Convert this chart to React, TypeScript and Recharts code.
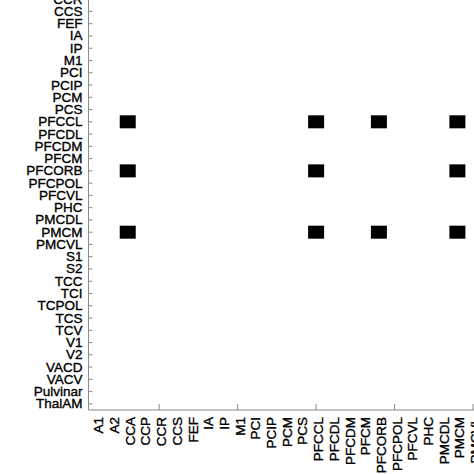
import { ScatterChart, Scatter, XAxis, YAxis } from "recharts";

// region names, used for both axes (matrix rows and columns)
const regions = [
  "A1", "A2", "CCA", "CCP", "CCR", "CCS", "FEF", "IA", "IP", "M1",
  "PCI", "PCIP", "PCM", "PCS", "PFCCL", "PFCDL", "PFCDM", "PFCM", "PFCORB", "PFCPOL",
  "PFCVL", "PHC", "PMCDL", "PMCM", "PMCVL", "S1", "S2", "TCC", "TCI", "TCPOL",
  "TCS", "TCV", "V1", "V2", "VACD", "VACV", "Pulvinar", "ThalAM",
];

// visible connections: [row (y), column (x)]
const links: [string, string][] = [
  ["PFCCL", "CCA"], ["PFCCL", "PFCCL"], ["PFCCL", "PFCORB"], ["PFCCL", "PMCM"],
  ["PFCORB", "CCA"], ["PFCORB", "PFCCL"], ["PFCORB", "PMCM"],
  ["PMCM", "CCA"], ["PMCM", "PFCCL"], ["PMCM", "PFCORB"], ["PMCM", "PMCM"],
];

const AXIS = "#8a8a8a";
const FONT = "'Liberation Sans', Arial, Helvetica, sans-serif";

const points = links.map(([row, col]) => ({
  x: regions.indexOf(col) + 1,
  y: regions.indexOf(row) + 1,
}));
const ticks = regions.map((_, i) => i + 1);

// label text is drawn a bit heavier, like the reference
const labelStyle = {
  fontFamily: FONT,
  fontSize: 13.5,
  fill: "#000",
  stroke: "#000",
  strokeWidth: 0.35,
};

function YTick(props: any) {
  const { x, y, payload } = props;
  return (
    <g>
      <line x1={x} x2={x + 4} y1={y} y2={y} stroke={AXIS} strokeWidth={1} />
      <text x={x - 6} y={y} textAnchor="end" dominantBaseline="central" {...labelStyle}>
        {regions[payload.value - 1]}
      </text>
    </g>
  );
}

function XTick(props: any) {
  const { x, y, payload } = props;
  const major = payload.value % 5 === 0;
  return (
    <g>
      {major && <line x1={x} x2={x} y1={y} y2={y - 6} stroke={AXIS} strokeWidth={1} />}
      <text transform={`translate(${x + 2.5},${y + 7}) rotate(-90)`} textAnchor="end"
        dominantBaseline="central" {...labelStyle}>
        {regions[payload.value - 1]}
      </text>
    </g>
  );
}

const Square = (props: any) => (
  <rect x={props.cx - 8} y={props.cy - 6.5} width={16} height={13} fill="#000" />
);

export default function App() {
  return (
    <div style={{ position: "absolute", left: 0, top: 0, width: 474, height: 474, overflow: "hidden", background: "#fff" }}>
      <div style={{ position: "absolute", left: 0, top: -66 }}>
        <ScatterChart width={695} height={556} margin={{ top: 10, right: 10, bottom: 0, left: 8.5 }}>
          <XAxis type="number" dataKey="x" domain={[0.5, 38.5]} ticks={ticks} interval={0}
            height={80} tickSize={0} tickMargin={0} tickLine={false}
            axisLine={{ stroke: AXIS }} tick={<XTick />} />
          <YAxis type="number" dataKey="y" domain={[0.5, 38.5]} ticks={ticks} interval={0}
            reversed width={80} tickSize={0} tickMargin={0} tickLine={false}
            axisLine={{ stroke: AXIS }} tick={<YTick />} />
          <Scatter data={points} shape={<Square />} isAnimationActive={false} />
        </ScatterChart>
      </div>
    </div>
  );
}
